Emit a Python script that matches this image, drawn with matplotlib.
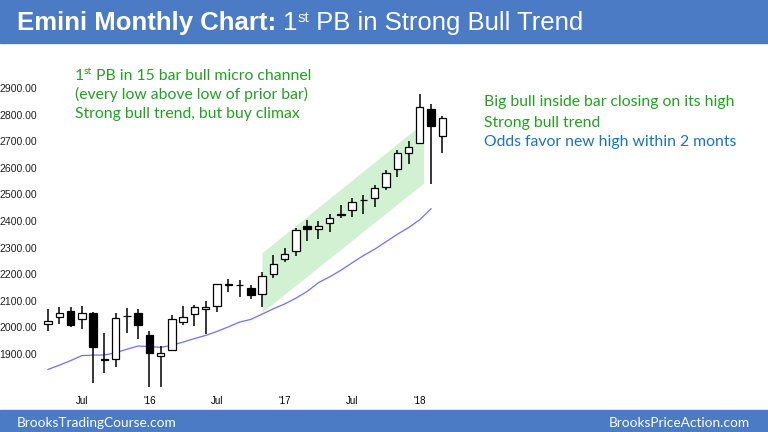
import matplotlib
matplotlib.use("Agg")
import matplotlib.pyplot as plt
from matplotlib.patches import Rectangle

# monthly bars, Apr 2015 .. Mar 2018
opens = [2012, 2040, 2062, 2030, 2055, 1878, 1880, 2042, 2053, 1973, 1894, 1915,
         2022, 2049, 2069, 2082, 2161, 2160, 2147, 2126, 2201, 2256, 2287, 2381,
         2369, 2394, 2424, 2441, 2478, 2485, 2527, 2594, 2654, 2692, 2821, 2721]
highs = [2068, 2078, 2078, 2082, 2059, 1978, 2053, 2074, 2068, 1988, 1931, 2047,
         2082, 2084, 2101, 2163, 2181, 2178, 2159, 2207, 2274, 2300, 2372, 2404,
         2401, 2425, 2460, 2488, 2498, 2535, 2592, 2667, 2702, 2877, 2840, 2795]
lows = [1988, 2013, 2003, 1993, 1790, 1827, 1850, 1980, 1956, 1777, 1777, 1913,
        2009, 2005, 1975, 2057, 2134, 2113, 2105, 2078, 2184, 2247, 2268, 2325,
        2331, 2357, 2410, 2414, 2425, 2454, 2515, 2567, 2614, 2692, 2538, 2654]
closes = [2025, 2053, 2009, 2055, 1925, 1881, 2037, 2044, 2009, 1902, 1902, 2032,
          2038, 2075, 2078, 2162, 2163, 2158, 2122, 2194, 2237, 2276, 2366, 2369,
          2382, 2413, 2426, 2473, 2480, 2523, 2579, 2654, 2680, 2830, 2757, 2786]

# 20 bar moving average (ends one bar before the last bar)
ma = [1842, 1858, 1875, 1894, 1896, 1896, 1905, 1918, 1930, 1928, 1925, 1933,
      1945, 1958, 1970, 1985, 2002, 2020, 2030, 2050, 2070, 2088, 2110, 2135,
      2168, 2190, 2215, 2243, 2270, 2294, 2322, 2350, 2375, 2405, 2446]

# micro channel
channel_x = [19, 33.33]
channel_top = [2281, 2770]
channel_bottom = [2057, 2542]

tick_pos = [3, 9, 15, 21, 27, 33]
tick_labels = ["Jul", "'16", "Jul", "'17", "Jul", "'18"]
y_ticks = [1900, 2000, 2100, 2200, 2300, 2400, 2500, 2600, 2700, 2800, 2900]

bar_blue = "#4a7bc4"
green = "#22a022"
blue = "#1a72c4"
txt_font = ["Lato", "DejaVu Sans"]
ttl_font = ["Liberation Sans Narrow", "Liberation Sans", "DejaVu Sans"]

fig = plt.figure(figsize=(7.68, 4.32), dpi=100)
W, H = 768.0, 432.0

# title and footer bands
fig.patches.append(Rectangle((0, 1 - 43 / H), 1, 43 / H, transform=fig.transFigure,
                             color=bar_blue, zorder=0))
fig.patches.append(Rectangle((0, 0), 1, 22 / H, transform=fig.transFigure,
                             color=bar_blue, zorder=0))

ax = fig.add_axes([40 / W, (H - 390) / H, 720 / W, 340 / H])
ax.set_xlim(-0.71, 63.2)
ax.set_ylim(1764.7, 3042.9)
for s in ax.spines.values():
    s.set_visible(False)

ax.fill_between(channel_x, channel_bottom, channel_top, color="#d2f1d2", lw=0, zorder=1)
ax.plot(range(len(ma)), ma, color="#6f6fff", lw=0.9, zorder=2)

bw = 0.66
for i in range(len(opens)):
    o, h, l, c = opens[i], highs[i], lows[i], closes[i]
    ax.plot([i, i], [l, h], color="black", lw=1.1, zorder=3, solid_capstyle="butt")
    lo, hi = min(o, c), max(o, c)
    face = "white" if c >= o else "black"
    ax.add_patch(Rectangle((i - bw / 2, lo), bw, max(hi - lo, 0.5), facecolor=face,
                           edgecolor="black", lw=0.9, zorder=4))

ax.set_xticks(tick_pos)
ax.set_xticklabels(tick_labels, fontsize=7, family=["Liberation Sans", "DejaVu Sans"])
ax.set_yticks(y_ticks)
ax.set_yticklabels([f"{v:.2f}" for v in y_ticks], fontsize=7.6,
                   family=["Liberation Sans", "DejaVu Sans"], color="#222222")
ax.tick_params(axis="both", length=0)
ax.tick_params(axis="x", pad=4)
ax.tick_params(axis="y", pad=2)

renderer = fig.canvas.get_renderer()


def put_pieces(x, y, pieces, color="white", family=ttl_font):
    # pieces: (text, size, weight, dy) laid out left to right in pixels
    for t, size, weight, dy in pieces:
        tx = fig.text(x / W, 1 - (y + dy) / H, t, fontsize=size, fontweight=weight,
                      family=family, color=color, va="baseline", ha="left")
        bb = tx.get_window_extent(renderer)
        x += bb.width


put_pieces(17, 30, [("Emini Monthly Chart: ", 18.5, "bold", 0),
                    ("1", 18.5, "normal", 0), ("st", 11, "normal", -8),
                    (" PB in Strong Bull Trend", 18.5, "normal", 0)])

# footer
fig.text(17 / W, 1 - 423 / H, "BrooksTradingCourse.com", fontsize=9.8, family=txt_font,
         color="white", va="center", ha="left")
fig.text(1 - 18 / W, 1 - 423 / H, "BrooksPriceAction.com", fontsize=9.8, family=txt_font,
         color="white", va="center", ha="right")

# left annotation
lx = 75
fs = 11.3
put_pieces(lx, 80, [("1", fs, "normal", 0), ("st", 7.5, "normal", -6),
                    (" PB in 15 bar bull micro channel", fs, "normal", 0)],
           color=green, family=txt_font)
fig.text(lx / W, 1 - 99 / H, "(every low above low of prior bar)", fontsize=fs,
         family=txt_font, color=green, va="baseline", ha="left")
fig.text(lx / W, 1 - 118 / H, "Strong bull trend, but buy climax", fontsize=fs,
         family=txt_font, color=green, va="baseline", ha="left")

# right annotation
rx = 484
fig.text(rx / W, 1 - 106 / H, "Big bull inside bar closing on its high", fontsize=fs,
         family=txt_font, color=green, va="baseline", ha="left")
fig.text(rx / W, 1 - 127 / H, "Strong bull trend", fontsize=fs,
         family=txt_font, color=green, va="baseline", ha="left")
fig.text(rx / W, 1 - 146 / H, "Odds favor new high within 2 monts", fontsize=fs,
         family=txt_font, color=blue, va="baseline", ha="left")

fig.savefig("out.png", dpi=100)
